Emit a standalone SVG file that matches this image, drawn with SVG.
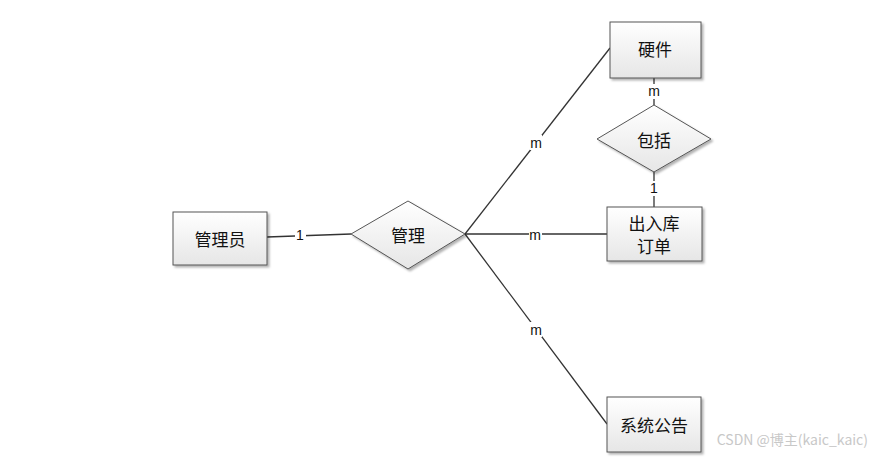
<svg xmlns="http://www.w3.org/2000/svg" width="873" height="461" viewBox="0 0 873 461">
<defs>
<linearGradient id="g" x1="0" y1="0" x2="0" y2="1"><stop offset="0" stop-color="#ffffff"/><stop offset="1" stop-color="#e6e6e6"/></linearGradient>
<filter id="s" x="-10%" y="-10%" width="130%" height="130%"><feDropShadow dx="2" dy="2" stdDeviation="1.2" flood-color="#000" flood-opacity="0.3"/></filter>
</defs>
<style>
.n{fill:url(#g);stroke:#555;stroke-width:1;filter:url(#s)}
.t{font-family:"Noto Sans CJK SC","Liberation Sans",sans-serif;font-size:17px;fill:#111;text-anchor:middle;dominant-baseline:central}
.c line{stroke:#333;stroke-width:1.3}
.l{font-family:"Liberation Sans",sans-serif;font-size:14px;fill:#111;text-anchor:middle;dominant-baseline:central}
.lb{fill:#fff}
</style>
<rect width="873" height="461" fill="#fff"/>
<g class="c" id="connectors">
<line x1="267" y1="237" x2="351" y2="234"/>
<line x1="465" y1="234" x2="610" y2="48"/>
<line x1="465" y1="234" x2="607" y2="234"/>
<line x1="465" y1="234" x2="607" y2="424"/>
<line x1="654" y1="78" x2="654" y2="105"/>
<line x1="654" y1="172" x2="654" y2="207"/>
<rect class="lb" x="295" y="227" width="11" height="15"/><text class="l" x="300" y="235">1</text>
<rect class="lb" x="530" y="135" width="12" height="15"/><text class="l" x="536" y="143">m</text>
<rect class="lb" x="529" y="228" width="13" height="14"/><text class="l" x="535" y="235">m</text>
<rect class="lb" x="530" y="322" width="12" height="15"/><text class="l" x="536" y="330">m</text>
<rect class="lb" x="647" y="84" width="14" height="15"/><text class="l" x="654" y="91">m</text>
<rect class="lb" x="648" y="181" width="12" height="15"/><text class="l" x="654" y="188">1</text>
</g>
<g id="admin"><rect class="n" x="173" y="212" width="94" height="53"/><text class="t" x="220" y="238">管理员</text></g>
<g id="manage"><polygon class="n" points="351,234 408,201 465,234 408,269"/><text class="t" x="408" y="234">管理</text></g>
<g id="hardware"><rect class="n" x="610" y="22" width="91" height="56"/><text class="t" x="655" y="48">硬件</text></g>
<g id="include"><polygon class="n" points="597,139 654,105 711,139 654,172"/><text class="t" x="654" y="139">包括</text></g>
<g id="order"><rect class="n" x="607" y="207" width="95" height="54"/><text class="t" x="654" y="222">出入库</text><text class="t" x="654" y="245">订单</text></g>
<g id="notice"><rect class="n" x="607" y="397" width="94" height="55"/><text class="t" x="654" y="424">系统公告</text></g>
<text x="868" y="445" font-family="'Noto Sans CJK SC','Liberation Sans',sans-serif" font-size="14" fill="#c8c8c8" text-anchor="end">CSDN @博主(kaic_kaic)</text>
</svg>
